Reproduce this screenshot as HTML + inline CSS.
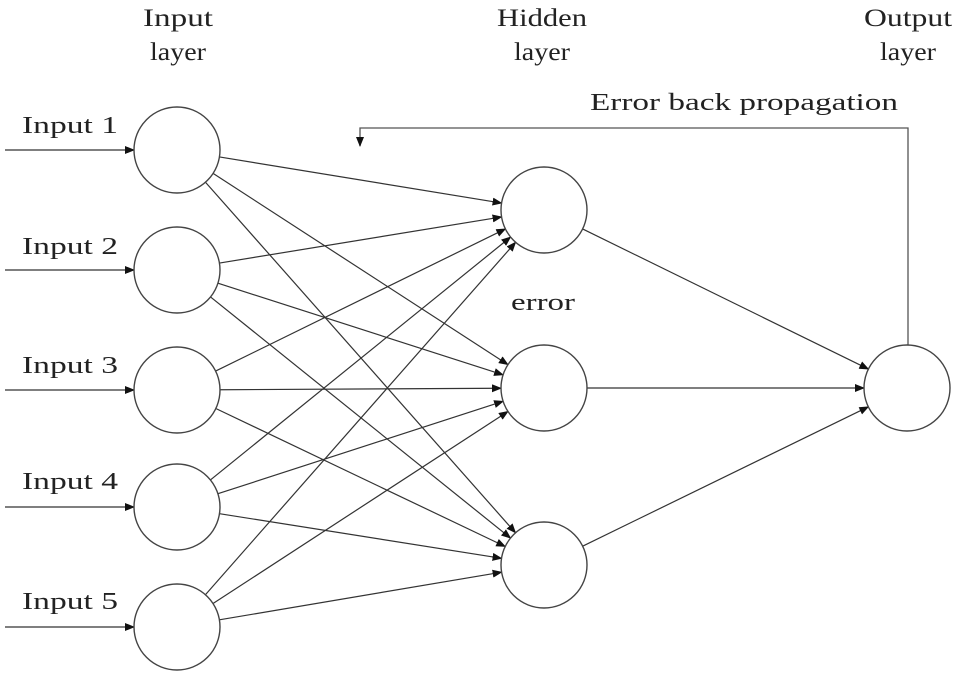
<!DOCTYPE html>
<html><head><meta charset="utf-8"><style>html,body{margin:0;padding:0;background:#fff}svg{display:block}</style></head>
<body>
<svg id="s" width="967" height="674" viewBox="0 0 967 674" xmlns="http://www.w3.org/2000/svg" font-family="'Liberation Serif', serif" fill="#222">
<defs><marker id="a" markerWidth="10" markerHeight="8" refX="9" refY="4" orient="auto" markerUnits="userSpaceOnUse"><path d="M0,0 L10,4 L0,8 z" fill="#111"/></marker></defs>
<g font-size="25" text-anchor="middle">
<text x="178" y="26" textLength="70" lengthAdjust="spacingAndGlyphs">Input</text>
<text x="178" y="60" textLength="56" lengthAdjust="spacingAndGlyphs">layer</text>
<text x="542" y="26" textLength="90" lengthAdjust="spacingAndGlyphs">Hidden</text>
<text x="542" y="60" textLength="56" lengthAdjust="spacingAndGlyphs">layer</text>
<text x="908" y="26" textLength="88" lengthAdjust="spacingAndGlyphs">Output</text>
<text x="908" y="60" textLength="56" lengthAdjust="spacingAndGlyphs">layer</text>
</g>
<text x="590" y="110" font-size="24" textLength="308" lengthAdjust="spacingAndGlyphs">Error back propagation</text>
<text x="511" y="310" font-size="24" textLength="64" lengthAdjust="spacingAndGlyphs">error</text>
<g font-size="24">
<text x="22" y="133" textLength="96" lengthAdjust="spacingAndGlyphs">Input 1</text>
<text x="22" y="254" textLength="96" lengthAdjust="spacingAndGlyphs">Input 2</text>
<text x="22" y="373" textLength="96" lengthAdjust="spacingAndGlyphs">Input 3</text>
<text x="22" y="489" textLength="96" lengthAdjust="spacingAndGlyphs">Input 4</text>
<text x="22" y="609" textLength="96" lengthAdjust="spacingAndGlyphs">Input 5</text>
</g>
<path d="M908,346 L908,128 L360,128 L360,146" fill="none" stroke="#555" stroke-width="1.3" marker-end="url(#a)"/>
<g id="g" stroke="#333" stroke-width="1.2" fill="none"></g>
</svg>
<script>
var g=document.getElementById('g'),R=43;
var I=[[177,150],[177,270],[177,390],[177,507],[177,627]],H=[[544,210],[544,388],[544,565]],O=[[907,388]];
function ln(x1,y1,x2,y2,arr){var l=document.createElementNS('http://www.w3.org/2000/svg','line');l.setAttribute('x1',x1);l.setAttribute('y1',y1);l.setAttribute('x2',x2);l.setAttribute('y2',y2);if(arr)l.setAttribute('marker-end','url(#a)');g.appendChild(l);}
function conn(p,q){var dx=q[0]-p[0],dy=q[1]-p[1],d=Math.hypot(dx,dy),ux=dx/d,uy=dy/d;ln(p[0]+ux*R,p[1]+uy*R,q[0]-ux*R,q[1]-uy*R,1);}
I.forEach(function(p){ln(5,p[1],p[0]-R,p[1],1);H.forEach(function(h){conn(p,h)});});
H.forEach(function(h){conn(h,O[0])});
I.concat(H,O).forEach(function(c){var e=document.createElementNS('http://www.w3.org/2000/svg','circle');e.setAttribute('cx',c[0]);e.setAttribute('cy',c[1]);e.setAttribute('r',R);e.setAttribute('fill','#fff');e.setAttribute('stroke','#444');e.setAttribute('stroke-width','1.4');g.appendChild(e);});
</script>
</body></html>
